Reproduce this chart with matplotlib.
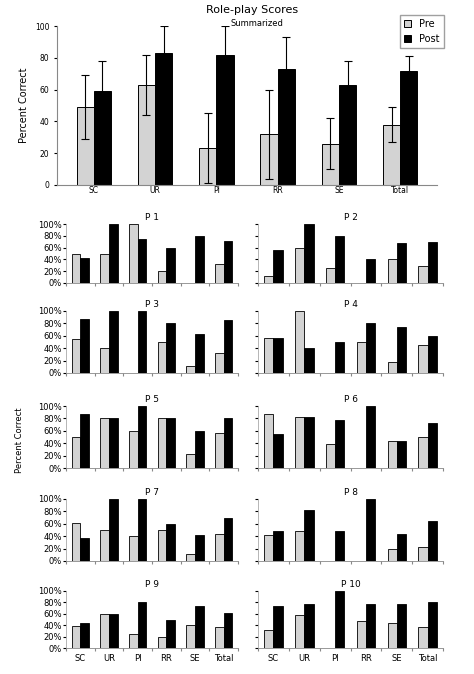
import matplotlib
matplotlib.use("Agg")
import matplotlib.pyplot as plt
import numpy as np
from matplotlib.ticker import PercentFormatter

cats = ["SC", "UR", "PI", "RR", "SE", "Total"]
sum_pre = [49, 63, 23, 32, 26, 38]
sum_post = [59, 83, 82, 73, 63, 72]
sum_pre_err = [20, 19, 22, 28, 16, 11]
sum_post_err = [19, 17, 18, 20, 15, 9]

participants = ["P 1", "P 2", "P 3", "P 4", "P 5", "P 6", "P 7", "P 8", "P 9", "P 10"]
pre = [
    [50, 50, 100, 20, 0, 33],
    [12, 60, 25, 0, 40, 28],
    [55, 40, 0, 50, 12, 33],
    [56, 100, 0, 50, 17, 45],
    [50, 80, 60, 80, 22, 57],
    [87, 82, 38, 0, 43, 50],
    [62, 50, 40, 50, 12, 43],
    [42, 48, 0, 0, 20, 22],
    [38, 60, 24, 20, 40, 37],
    [32, 58, 0, 48, 44, 36],
]
post = [
    [43, 100, 75, 60, 80, 71],
    [56, 100, 80, 40, 67, 70],
    [87, 100, 100, 80, 63, 86],
    [57, 40, 50, 80, 75, 60],
    [87, 80, 100, 80, 60, 80],
    [55, 82, 78, 100, 43, 72],
    [37, 100, 100, 60, 42, 69],
    [48, 83, 48, 100, 43, 65],
    [43, 60, 80, 50, 73, 61],
    [73, 78, 100, 78, 78, 80],
]

GREY = "#d3d3d3"
fig = plt.figure(figsize=(4.74, 6.74), dpi=100)
W, H = 474, 674

def ax_px(x0, y0, x1, y1):
    return fig.add_axes([x0 / W, 1 - y1 / H, (x1 - x0) / W, (y1 - y0) / H])

x = np.arange(len(cats))
# Summary chart
ax = ax_px(57, 26, 437, 185)
bw = 0.28
ax.bar(x - bw / 2, sum_pre, bw, color=GREY, edgecolor="black", linewidth=0.7,
       yerr=sum_pre_err, capsize=3, error_kw=dict(elinewidth=0.8, capthick=0.8), label="Pre")
ax.bar(x + bw / 2, sum_post, bw, color="black", edgecolor="black", linewidth=0.7,
       yerr=sum_post_err, capsize=3, error_kw=dict(elinewidth=0.8, capthick=0.8), label="Post")
ax.set_ylim(0, 100)
ax.set_yticks(range(0, 101, 20))
ax.set_xlim(-0.6, 5.6)
ax.set_xticks(x)
ax.set_xticklabels(cats, fontsize=5.5)
ax.tick_params(axis="y", labelsize=5.5, length=2)
ax.tick_params(axis="x", length=0, pad=1)
ax.set_ylabel("Percent Correct", fontsize=7)
for s in ["top", "right"]:
    ax.spines[s].set_visible(False)
ax.spines["left"].set_color("#888888")
ax.spines["bottom"].set_color("#888888")
ax.legend(loc="upper right", bbox_to_anchor=(1.03, 1.1), fontsize=7, frameon=True,
          fancybox=False, edgecolor="#888888", handlelength=0.8, borderpad=0.4)
fig.text(0.5 * (57 + 437) / W + 0.01, 1 - 10 / H, "Role-play Scores", ha="center", va="center", fontsize=8)
fig.text(0.5 * (57 + 437) / W + 0.02, 1 - 23 / H, "Summarized", ha="center", va="center", fontsize=6)

rows = [(224, 283), (311, 373), (406, 468), (499, 561), (591, 648)]
cols = [(66, 238), (258, 443)]
bw2 = 0.3
for i, p in enumerate(participants):
    r, c = divmod(i, 2)
    y0, y1 = rows[r]
    x0, x1 = cols[c]
    a = ax_px(x0, y0, x1, y1)
    a.bar(x - bw2 / 2, pre[i], bw2, color=GREY, edgecolor="black", linewidth=0.6)
    a.bar(x + bw2 / 2, post[i], bw2, color="black", edgecolor="black", linewidth=0.6)
    a.set_ylim(0, 100)
    a.set_xlim(-0.5, 5.5)
    a.set_yticks(range(0, 101, 20))
    a.yaxis.set_major_formatter(PercentFormatter(decimals=0))
    a.tick_params(axis="y", labelsize=6, length=2, pad=1)
    if c == 1:
        a.tick_params(axis="y", labelleft=False)
    a.set_xticks(np.arange(-0.5, 6, 1), minor=False)
    a.set_xticklabels([])
    a.tick_params(axis="x", length=2, color="#888888")
    if r == 4:
        a.set_xticks(x, minor=True)
        a.set_xticklabels(cats, minor=True, fontsize=6)
        a.tick_params(axis="x", which="minor", length=0, pad=4)
    a.set_title(p, fontsize=6.5, pad=3)
    for s in ["top", "right"]:
        a.spines[s].set_visible(False)
    a.spines["left"].set_color("#aaaaaa")
    a.spines["bottom"].set_color("#888888")
    a.spines["left"].set_linewidth(0.6)
    a.spines["bottom"].set_linewidth(0.6)

fig.text(20 / W, 1 - 440 / H, "Percent Correct", rotation=90, ha="center", va="center", fontsize=6)
fig.savefig("out.png", dpi=100)
